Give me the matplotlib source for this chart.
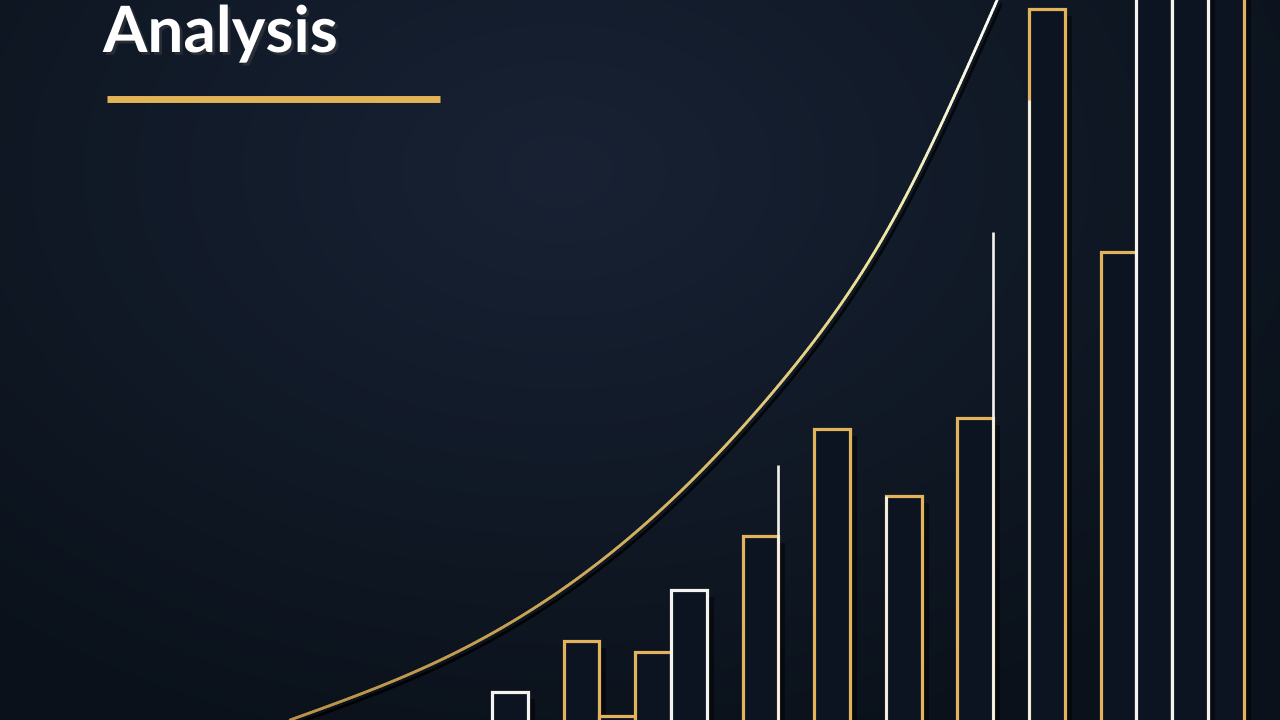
import numpy as np
import matplotlib
matplotlib.use("Agg")
import matplotlib.pyplot as plt
from matplotlib.collections import LineCollection
from matplotlib.colors import LinearSegmentedColormap
import matplotlib.patheffects as pe

# ---------------- data ----------------
title = "Analysis"
# bar slots (category index), heights (None = empty slot), outline colour
slots = list(range(21))
values = [28, None, 79, 4, 68, 130, None, 184, None, 291, None, 224, None, 302,
          None, 711, None, 468, 780, 800, 820]
bar_colors = ["white", None, "gold", "gold", "gold", "white", None, "gold", None, "gold",
              None, "gold", None, "gold", None, "gold", None, "gold", "white", "white", "gold"]
# thin white marker lines (edge position in slot units, height)
spike_x = [8.0, 11.0, 14.0, 15.0, 18.0, 20.0]
spike_h = [255, 224, 488, 620, 800, 800]
# trend curve (slot units, value)
curve_x = [-5.64, -1.26, 3.49, 8.13, 11.31, 14.11]
curve_y = [0, 63, 172, 340, 507, 720]

GOLD = "#e2b35c"
WHITE = "#f4f3ef"
cmap_col = {"gold": GOLD, "white": WHITE}


def natural_spline(x, y, xs):
    x = np.asarray(x, float)
    y = np.asarray(y, float)
    n = len(x)
    h = np.diff(x)
    A = np.zeros((n, n))
    b = np.zeros(n)
    A[0, 0] = A[-1, -1] = 1
    for i in range(1, n - 1):
        A[i, i - 1] = h[i - 1]
        A[i, i] = 2 * (h[i - 1] + h[i])
        A[i, i + 1] = h[i]
        b[i] = 6 * ((y[i + 1] - y[i]) / h[i] - (y[i] - y[i - 1]) / h[i - 1])
    M = np.linalg.solve(A, b)
    idx = np.clip(np.searchsorted(x, xs) - 1, 0, n - 2)
    xi, xi1 = x[idx], x[idx + 1]
    hi = xi1 - xi
    t1 = xi1 - xs
    t0 = xs - xi
    return (M[idx] * t1 ** 3 / (6 * hi) + M[idx + 1] * t0 ** 3 / (6 * hi)
            + (y[idx] / hi - M[idx] * hi / 6) * t1 + (y[idx + 1] / hi - M[idx + 1] * hi / 6) * t0)


# ---------------- figure ----------------
fig = plt.figure(figsize=(12.8, 7.2), dpi=100)
bg = fig.add_axes([0, 0, 1, 1], zorder=0)
bg.axis("off")
yy, xx = np.mgrid[0:720, 0:1280]
d = np.sqrt(((xx - 560) / 900.0) ** 2 + ((yy - 170) / 620.0) ** 2)
d = np.clip(d, 0, 1)
c0 = np.array([0x18, 0x22, 0x34]) / 255.0
c1 = np.array([0x0a, 0x11, 0x1a]) / 255.0
img = c0[None, None, :] * (1 - d[..., None]) + c1[None, None, :] * d[..., None]
bg.imshow(img, extent=[0, 1280, 720, 0], aspect="auto")
bg.set_xlim(0, 1280)
bg.set_ylim(720, 0)

ax = fig.add_axes([0, 0, 1, 1], zorder=1)
ax.patch.set_alpha(0)
ax.axis("off")
unit = 35.8
x0 = 492
ax.set_xlim((0 - x0) / unit, (1280 - x0) / unit)
ax.set_ylim(0, 720)

shadow = [pe.SimplePatchShadow(offset=(5, -5), shadow_rgbFace="black", alpha=0.45), pe.Normal()]
for s, v, c in zip(slots, values, bar_colors):
    if v is None:
        continue
    z = 4 if c == "white" else 3
    ax.bar(s, v + 10, bottom=-10, width=1.0, align="edge", facecolor="#0c1422",
           edgecolor=cmap_col[c], linewidth=2.3, zorder=z, path_effects=shadow)

ax.vlines(spike_x, -10, spike_h, colors=WHITE, linewidth=1.9, zorder=5)

# gradient curve (smooth through the read points)
xs = np.linspace(min(curve_x), max(curve_x), 500)
ys = natural_spline(curve_x, curve_y, xs)
pts = np.column_stack([xs, ys]).reshape(-1, 1, 2)
segs = np.concatenate([pts[:-1], pts[1:]], axis=1)
cm = LinearSegmentedColormap.from_list("g", ["#b89148", "#d9b964", "#efe7a0", "#ffffff"])
lc = LineCollection(segs, cmap=cm, linewidth=2.0, zorder=6, capstyle="round")
lc.set_array(ys / 720.0)
lc.set_clim(0, 1)
lc.set_path_effects([pe.SimpleLineShadow(offset=(3, -3), alpha=0.5, shadow_color="black"), pe.Normal()])
ax.add_collection(lc)

# title and underline
fig.text(103 / 1280, 1 - 52 / 720, title, color="white", fontsize=46, fontweight="bold",
         family=["Lato", "DejaVu Sans"], ha="left", va="baseline", zorder=10,
         path_effects=[pe.withSimplePatchShadow(offset=(2, -2), alpha=0.4)])
fig.add_artist(plt.Line2D([107 / 1280, 440 / 1280], [1 - 99 / 720, 1 - 99 / 720],
                          transform=fig.transFigure, color="#e3b457", linewidth=5,
                          solid_capstyle="butt", zorder=10))

fig.savefig("out.png", dpi=100)
